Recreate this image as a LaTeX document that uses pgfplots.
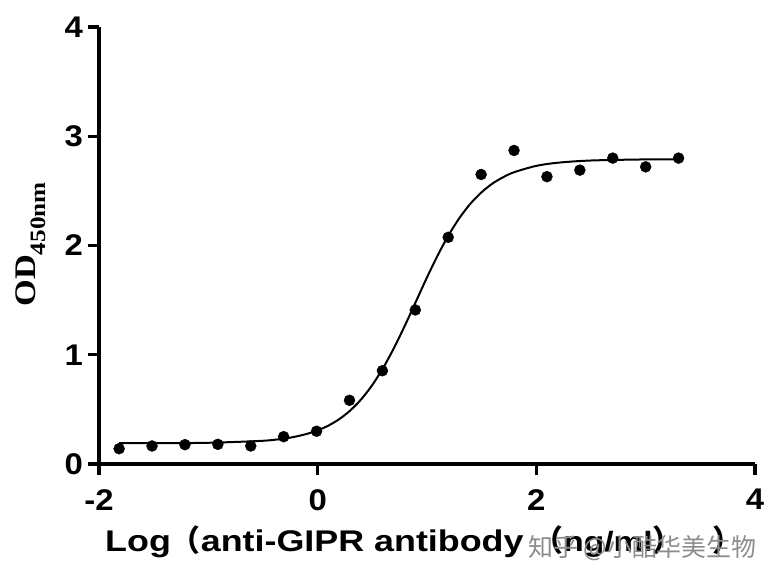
\documentclass[border=0pt]{standalone}
\usepackage{pgfplots}
\pgfplotsset{compat=1.18}
\usepackage{fontspec}
\setmainfont{Liberation Sans}
\newfontfamily\labelfont[FakeStretch=1.2]{Liberation Sans}
\newfontfamily\tickfont[FakeStretch=1.1]{Liberation Sans}
\newfontfamily\seriffont[FakeStretch=1.15]{Liberation Serif}
\newfontfamily\cjk{Noto Sans CJK SC}
\definecolor{wm}{HTML}{8C8C8C}
\begin{document}
\begin{tikzpicture}
\path[use as bounding box] (0,0) rectangle (779bp,583bp);
\begin{axis}[
  at={(99bp,119bp)}, anchor=south west,
  scale only axis, width=656bp, height=437bp,
  xmin=-2, xmax=4, ymin=0, ymax=4,
  axis lines*=left,
  axis line style={line width=3.4bp},
  tick style={line width=3.2bp, black},
  tick align=outside,
  major tick length=11bp,
  xtick={-2,0,2,4}, xticklabels={-2,0,2,4},
  ytick={0,1,2,3,4}, yticklabels={0,1,2,3,4},
  ticklabel style={font=\tickfont\fontsize{30}{30}\selectfont\bfseries, inner sep=0pt},
  xticklabel style={yshift=-14bp},
  yticklabel style={xshift=-5bp},
  clip=false,
]
\addplot[black, line width=2bp, smooth] coordinates {
(-1.816,0.1903) (-1.5,0.1904) (-1.0,0.1942) (-0.5,0.2126) (-0.3,0.2340)
(-0.2,0.2513) (-0.1,0.2752) (0,0.3080) (0.1,0.3525) (0.2,0.4124)
(0.3,0.4916) (0.4,0.5942) (0.5,0.7236) (0.6,0.8813) (0.7,1.066)
(0.8,1.272) (0.9,1.49) (1.0,1.708) (1.1,1.914) (1.2,2.099)
(1.3,2.2565) (1.4,2.386) (1.5,2.488) (1.6,2.568) (1.7,2.627)
(1.8,2.672) (2.0,2.729) (2.2,2.758) (2.5,2.778) (3.0,2.788) (3.301,2.789)
};
\addplot[only marks, mark=*, mark size=5.5bp, black] coordinates {
(-1.816,0.14) (-1.515,0.165) (-1.214,0.177) (-0.913,0.18) (-0.612,0.165)
(-0.311,0.25) (-0.010,0.30) (0.291,0.583) (0.592,0.854) (0.893,1.41)
(1.194,2.075) (1.495,2.65) (1.796,2.87) (2.097,2.63) (2.398,2.69)
(2.699,2.80) (3.000,2.72) (3.301,2.80)
};
\end{axis}
\node[rotate=90, anchor=base, inner sep=0pt] at (35bp,338.5bp)
  {\seriffont\bfseries\fontsize{30}{30}\selectfont OD\raisebox{-10bp}{\fontsize{22}{22}\selectfont 450nm}};
\node[anchor=base west, inner sep=0pt] at (105bp,32bp)
  {\labelfont\fontsize{30}{30}\selectfont\bfseries Log{\cjk\fontsize{30}{30}\selectfont （}anti-GIPR antibody\hspace{10bp}{\cjk\fontsize{30}{30}\selectfont （}{\fontsize{28}{28}\selectfont ng/ml}{\cjk\fontsize{30}{30}\selectfont ）\hspace{30bp}）}};
\node[anchor=base west, inner sep=0pt, text=wm] at (528bp,27bp)
  {\cjk\fontsize{25}{25}\selectfont 知乎 @小酷华美生物};
\end{tikzpicture}
\end{document}
